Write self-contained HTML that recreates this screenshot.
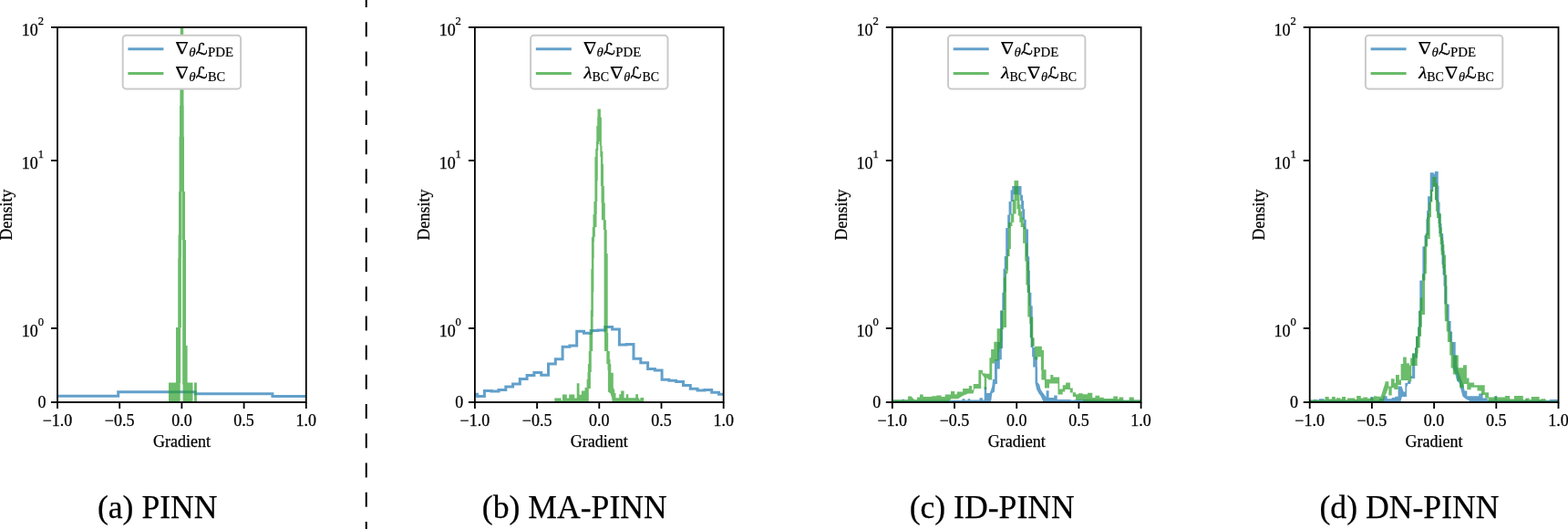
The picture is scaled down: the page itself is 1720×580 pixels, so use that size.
<!DOCTYPE html>
<html lang="en"><head><meta charset="utf-8"><title>Gradient density histograms</title>
<style>
html,body{margin:0;padding:0;background:#fff;}
body{width:1720px;height:580px;overflow:hidden;}
svg{display:block;position:absolute;left:0;top:0;}
text{font-family:"Liberation Serif","DejaVu Serif",serif;fill:#000;stroke:#000;stroke-width:0.25px;}
.t{font-size:18px;}
.s{font-size:12.6px;}
.cap{font-size:35.65px;}
.m{font-family:"DejaVu Math TeX Gyre","DejaVu Serif","DejaVu Sans",serif;}
.i{font-style:italic;}
</style></head><body>
<svg width="1720" height="580" viewBox="0 0 1720 580">
<rect x="0" y="0" width="1720" height="580" fill="#fff"/>
<line x1="401.75" y1="-7.9" x2="401.75" y2="590" stroke="#000" stroke-width="2" stroke-dasharray="16 16.21"/>
<g id="plot0">
<clipPath id="clip0"><rect x="63.00" y="29.90" width="272.80" height="411.10"/></clipPath>
<g clip-path="url(#clip0)">
<g opacity="0.7"><path d="M60.0,434.3 L129.7,434.3 L129.7,429.7 L214.3,429.7 L214.3,431.8 L298.9,431.8 L298.9,434.6 L340.0,434.6" fill="none" stroke="#1f77b4" stroke-width="3" stroke-linejoin="miter" /></g><g opacity="0.7"><path d="M185.0,419.5H197.7V441.5H185.0ZM200.6,421.5H211.5V441.5H200.6ZM200.2,419.5H211.5V421.5H200.2ZM213.0,419.5H215.9V441.5H213.0ZM193.0,359.0H198.1V420.0H193.0ZM195.2,283.0H198.9V359.0H195.2ZM195.5,257.5H199.0V283.0H195.5ZM196.0,210.0H199.0V257.5H196.0ZM200.2,379.0H205.6V420.0H200.2ZM200.2,263.0H204.0V379.0H200.2ZM199.5,210.0H203.0V263.0H199.5ZM196.5,150.0H202.0V210.0H196.5ZM197.0,116.0H201.7V150.0H197.0ZM197.4,97.0H201.5V116.0H197.4ZM197.8,28.0H201.2V97.0H197.8Z" fill="#2ca02c" fill-rule="nonzero"/></g>
</g>
<rect x="63.00" y="29.90" width="272.80" height="411.10" fill="none" stroke="#000" stroke-width="1.8"/>
<line x1="63.00" y1="441.00" x2="63.00" y2="448.00" stroke="#000" stroke-width="1.8"/>
<text class="t" x="63.00" y="466.7" text-anchor="middle">−1.0</text>
<line x1="131.20" y1="441.00" x2="131.20" y2="448.00" stroke="#000" stroke-width="1.8"/>
<text class="t" x="131.20" y="466.7" text-anchor="middle">−0.5</text>
<line x1="199.40" y1="441.00" x2="199.40" y2="448.00" stroke="#000" stroke-width="1.8"/>
<text class="t" x="199.40" y="466.7" text-anchor="middle">0.0</text>
<line x1="267.60" y1="441.00" x2="267.60" y2="448.00" stroke="#000" stroke-width="1.8"/>
<text class="t" x="267.60" y="466.7" text-anchor="middle">0.5</text>
<line x1="335.80" y1="441.00" x2="335.80" y2="448.00" stroke="#000" stroke-width="1.8"/>
<text class="t" x="335.80" y="466.7" text-anchor="middle">1.0</text>
<line x1="56.00" y1="441.00" x2="63.00" y2="441.00" stroke="#000" stroke-width="1.8"/>
<text class="t" x="50.40" y="447.30" text-anchor="end">0</text>
<line x1="56.00" y1="359.90" x2="63.00" y2="359.90" stroke="#000" stroke-width="1.8"/>
<text class="t" x="23.80" y="368.80">10<tspan class="s" dy="-12.0" dx="-0.1">0</tspan></text>
<line x1="56.00" y1="176.00" x2="63.00" y2="176.00" stroke="#000" stroke-width="1.8"/>
<text class="t" x="23.80" y="184.90">10<tspan class="s" dy="-12.0" dx="-0.1">1</tspan></text>
<line x1="56.00" y1="29.90" x2="63.00" y2="29.90" stroke="#000" stroke-width="1.8"/>
<text class="t" x="23.80" y="38.80">10<tspan class="s" dy="-12.0" dx="-0.1">2</tspan></text>
<text class="t" x="199.40" y="490.0" text-anchor="middle">Gradient</text>
<text class="t" transform="translate(13.10,235.45) rotate(-90)" text-anchor="middle">Density</text>
<rect x="134.70" y="38.8" width="129.40" height="58.6" rx="3.6" ry="3.6" fill="#fff" stroke="#cacaca" stroke-width="2"/>
<line x1="140.40" y1="53.8" x2="179.40" y2="53.8" stroke="#1f77b4" stroke-opacity="0.7" stroke-width="3"/>
<line x1="140.40" y1="80.4" x2="179.40" y2="80.4" stroke="#2ca02c" stroke-opacity="0.7" stroke-width="3"/>
<text transform="translate(190.32,58.79) scale(1.0516,0.9062)" font-size="20" style="font-family:'DejaVu Math TeX Gyre','DejaVu Serif',serif;stroke-width:0.05px">∇</text><text transform="translate(207.21,61.91) scale(0.7464,0.7577)" font-size="20" style="font-family:'Liberation Serif',serif" font-style="italic">θ</text><text transform="translate(214.72,59.53) scale(0.9031,0.8947)" font-size="20" style="font-family:'DejaVu Sans',serif;stroke-width:0.45px">ℒ</text><text transform="translate(227.91,61.97) scale(0.7431,0.7153)" font-size="20" style="font-family:'Liberation Serif',serif">PDE</text>
<text transform="translate(190.32,85.69) scale(1.0516,0.9062)" font-size="20" style="font-family:'DejaVu Math TeX Gyre','DejaVu Serif',serif;stroke-width:0.05px">∇</text><text transform="translate(207.21,88.81) scale(0.7464,0.7577)" font-size="20" style="font-family:'Liberation Serif',serif" font-style="italic">θ</text><text transform="translate(214.72,86.43) scale(0.9031,0.8947)" font-size="20" style="font-family:'DejaVu Sans',serif;stroke-width:0.45px">ℒ</text><text transform="translate(227.93,88.85) scale(0.7176,0.7313)" font-size="20" style="font-family:'Liberation Serif',serif">BC</text>
<text class="cap" x="172.75" y="567.9" text-anchor="middle">(a) PINN</text>
</g>
<g id="plot1">
<clipPath id="clip1"><rect x="520.90" y="29.90" width="272.80" height="411.10"/></clipPath>
<g clip-path="url(#clip1)">
<g opacity="0.7"><path d="M515.0,432.2 L523.6,432.2 L523.6,434.4 L531.4,434.4 L531.4,428.4 L539.2,428.4 L539.2,428.9 L547.0,428.9 L547.0,427.4 L554.8,427.4 L554.8,423.9 L562.6,423.9 L562.6,421.0 L570.3,421.0 L570.3,415.4 L578.1,415.4 L578.1,411.4 L585.9,411.4 L585.9,408.4 L593.7,408.4 L593.7,411.3 L601.5,411.3 L601.5,398.9 L609.3,398.9 L609.3,393.7 L617.1,393.7 L617.1,380.2 L624.9,380.2 L624.9,379.0 L632.7,379.0 L632.7,363.3 L640.5,363.3 L640.5,365.3 L648.2,365.3 L648.2,362.5 L656.0,362.5 L656.0,361.9 L663.8,361.9 L663.8,358.4 L671.6,358.4 L671.6,360.9 L679.4,360.9 L679.4,378.0 L687.2,378.0 L687.2,377.4 L695.0,377.4 L695.0,393.2 L702.8,393.2 L702.8,397.7 L710.6,397.7 L710.6,404.5 L718.4,404.5 L718.4,406.1 L726.1,406.1 L726.1,416.3 L733.9,416.3 L733.9,417.3 L741.7,417.3 L741.7,418.4 L749.5,418.4 L749.5,422.4 L757.3,422.4 L757.3,426.2 L765.1,426.2 L765.1,427.9 L772.9,427.9 L772.9,427.5 L780.7,427.5 L780.7,430.3 L788.5,430.3 L788.5,432.2 L800.0,432.2" fill="none" stroke="#1f77b4" stroke-width="3" stroke-linejoin="miter" /></g><g opacity="0.7"><path d="M608.3,436.4 L615.6,436.4 L615.6,439.0 L617.0,439.0 L617.0,432.5 L621.8,432.5 L621.8,436.4 L624.2,436.4 L624.2,432.5 L630.3,432.5 L630.3,436.4 L632.7,436.4 L632.7,420.3 L635.5,420.3 L635.5,432.7 L637.9,432.7 L637.9,428.4 L641.5,428.4 L641.5,425.0 L643.6,425.0 L643.6,425.0 L643.6,416.0 L644.5,416.0 L644.5,408.0 L644.9,408.0 L644.9,399.0 L645.8,399.0 L645.8,385.0 L646.5,385.0 L646.5,365.0 L647.8,365.0 L647.8,340.0 L648.3,340.0 L648.3,295.0 L648.9,295.0 L648.9,259.8 L649.8,259.8 L649.8,248.9 L650.5,248.9 L650.5,235.0 L651.4,235.0 L651.4,221.0 L652.4,221.0 L652.4,172.0 L653.2,172.0 L653.2,163.0 L654.0,163.0 L654.0,155.0 L654.3,155.0 L654.3,138.0 L655.2,138.0 L655.2,128.6 L655.5,128.6 L655.5,119.6 L658.9,119.6 L658.9,128.6 L659.9,128.6 L659.9,160.0 L660.5,160.0 L660.5,166.0 L661.4,166.0 L661.4,180.0 L662.0,180.0 L662.0,204.0 L662.9,204.0 L662.9,222.6 L663.8,222.6 L663.8,241.2 L664.9,241.2 L664.9,252.0 L665.7,252.0 L665.7,278.0 L666.7,278.0 L666.7,365.0 L667.2,365.0 L667.2,385.0 L668.8,385.0 L668.8,394.0 L669.5,394.0 L669.5,399.0 L670.3,399.0 L670.3,408.8 L672.8,408.8 L672.8,425.2 L673.4,425.2 L673.4,427.0 L674.2,427.0 L674.2,431.0 L675.5,431.0 L675.5,436.2 L675.5,436.2 L679.2,436.2 L679.2,432.2 L681.1,432.2 L681.1,428.4 L684.6,428.4 L684.6,436.2 L686.8,436.2 L686.8,432.2 L689.3,432.2 L689.3,436.2 L697.2,436.2 L697.2,432.2 L700.0,432.2 L700.0,436.2 L701.0,436.2 L701.0,438.0 L702.4,438.0 L702.4,436.0 L706.2,436.0 L706.2,441.5 L671.6,441.5 L671.2,436.4 L669.5,431.2 L666.9,429.5 L666.9,406.0 L666.5,406.0 L666.5,399.0 L665.3,399.0 L665.3,385.0 L663.0,385.0 L663.0,365.0 L662.6,365.0 L662.6,252.0 L661.8,252.0 L661.8,241.2 L659.9,241.2 L659.9,222.6 L659.5,222.6 L659.5,204.0 L658.9,204.0 L658.9,172.0 L658.3,172.0 L658.3,160.0 L657.7,160.0 L657.7,155.0 L657.2,155.0 L657.2,158.0 L656.3,158.0 L656.3,165.0 L655.8,165.0 L655.8,198.0 L655.3,198.0 L655.3,221.0 L654.8,221.0 L654.8,235.0 L654.5,235.0 L654.5,248.9 L652.9,248.9 L652.9,259.8 L652.0,259.8 L652.0,265.0 L651.7,265.0 L651.7,283.0 L651.4,283.0 L651.4,320.0 L650.9,320.0 L650.9,347.0 L650.6,347.0 L650.6,365.0 L650.2,365.0 L650.2,385.0 L648.8,385.0 L648.8,408.0 L647.9,408.0 L647.9,426.0 L645.8,426.0 L645.8,441.5 L645.8,441.5 L608.3,441.5Z" fill="#2ca02c"/></g>
</g>
<rect x="520.90" y="29.90" width="272.80" height="411.10" fill="none" stroke="#000" stroke-width="1.8"/>
<line x1="520.90" y1="441.00" x2="520.90" y2="448.00" stroke="#000" stroke-width="1.8"/>
<text class="t" x="520.90" y="466.7" text-anchor="middle">−1.0</text>
<line x1="589.10" y1="441.00" x2="589.10" y2="448.00" stroke="#000" stroke-width="1.8"/>
<text class="t" x="589.10" y="466.7" text-anchor="middle">−0.5</text>
<line x1="657.30" y1="441.00" x2="657.30" y2="448.00" stroke="#000" stroke-width="1.8"/>
<text class="t" x="657.30" y="466.7" text-anchor="middle">0.0</text>
<line x1="725.50" y1="441.00" x2="725.50" y2="448.00" stroke="#000" stroke-width="1.8"/>
<text class="t" x="725.50" y="466.7" text-anchor="middle">0.5</text>
<line x1="793.70" y1="441.00" x2="793.70" y2="448.00" stroke="#000" stroke-width="1.8"/>
<text class="t" x="793.70" y="466.7" text-anchor="middle">1.0</text>
<line x1="513.90" y1="441.00" x2="520.90" y2="441.00" stroke="#000" stroke-width="1.8"/>
<text class="t" x="508.30" y="447.30" text-anchor="end">0</text>
<line x1="513.90" y1="359.90" x2="520.90" y2="359.90" stroke="#000" stroke-width="1.8"/>
<text class="t" x="481.70" y="368.80">10<tspan class="s" dy="-12.0" dx="-0.1">0</tspan></text>
<line x1="513.90" y1="176.00" x2="520.90" y2="176.00" stroke="#000" stroke-width="1.8"/>
<text class="t" x="481.70" y="184.90">10<tspan class="s" dy="-12.0" dx="-0.1">1</tspan></text>
<line x1="513.90" y1="29.90" x2="520.90" y2="29.90" stroke="#000" stroke-width="1.8"/>
<text class="t" x="481.70" y="38.80">10<tspan class="s" dy="-12.0" dx="-0.1">2</tspan></text>
<text class="t" x="657.30" y="490.0" text-anchor="middle">Gradient</text>
<text class="t" transform="translate(471.00,235.45) rotate(-90)" text-anchor="middle">Density</text>
<rect x="582.10" y="38.8" width="150.40" height="58.6" rx="3.6" ry="3.6" fill="#fff" stroke="#cacaca" stroke-width="2"/>
<line x1="587.80" y1="53.8" x2="626.80" y2="53.8" stroke="#1f77b4" stroke-opacity="0.7" stroke-width="3"/>
<line x1="587.80" y1="80.4" x2="626.80" y2="80.4" stroke="#2ca02c" stroke-opacity="0.7" stroke-width="3"/>
<text transform="translate(637.72,58.79) scale(1.0516,0.9062)" font-size="20" style="font-family:'DejaVu Math TeX Gyre','DejaVu Serif',serif;stroke-width:0.05px">∇</text><text transform="translate(654.61,61.91) scale(0.7464,0.7577)" font-size="20" style="font-family:'Liberation Serif',serif" font-style="italic">θ</text><text transform="translate(662.12,59.53) scale(0.9031,0.8947)" font-size="20" style="font-family:'DejaVu Sans',serif;stroke-width:0.45px">ℒ</text><text transform="translate(675.31,61.97) scale(0.7431,0.7153)" font-size="20" style="font-family:'Liberation Serif',serif">PDE</text>
<text transform="translate(640.40,86.00) scale(1.0529,0.9514)" font-size="20" style="font-family:'Liberation Serif',serif" font-style="italic">λ</text><text transform="translate(649.55,88.85) scale(0.6952,0.7313)" font-size="20" style="font-family:'Liberation Serif',serif">BC</text><text transform="translate(666.91,85.69) scale(1.0547,0.9062)" font-size="20" style="font-family:'DejaVu Math TeX Gyre','DejaVu Serif',serif;stroke-width:0.05px">∇</text><text transform="translate(684.16,88.81) scale(0.7167,0.7577)" font-size="20" style="font-family:'Liberation Serif',serif" font-style="italic">θ</text><text transform="translate(691.45,86.43) scale(0.8636,0.8947)" font-size="20" style="font-family:'DejaVu Sans',serif;stroke-width:0.45px">ℒ</text><text transform="translate(704.50,88.85) scale(0.6948,0.7313)" font-size="20" style="font-family:'Liberation Serif',serif">BC</text>
<text class="cap" x="630.30" y="567.9" text-anchor="middle">(b) MA-PINN</text>
</g>
<g id="plot2">
<clipPath id="clip2"><rect x="978.80" y="29.90" width="272.80" height="411.10"/></clipPath>
<g clip-path="url(#clip2)">
<g opacity="0.7"><path d="M979.2,438.8 L989.5,438.8 L989.5,437.8 L992.0,437.8 L992.0,438.8 L1055.5,438.8 L1055.5,437.2 L1058.5,437.2 L1058.5,438.8 L1061.6,438.8 L1061.6,437.2 L1064.1,437.2 L1064.1,438.5 L1074.5,438.5 L1074.5,436.2 L1077.9,436.2 L1077.9,438.5 L1079.7,438.5 L1079.7,424.3 L1082.2,424.3 L1082.2,431.0 L1085.7,431.0 L1087.0,427.8 L1088.3,423.4 L1089.1,415.7 L1091.0,415.7 L1091.0,394.0 L1094.0,394.0 L1094.0,375.0 L1097.0,375.0 L1097.0,340.4 L1099.3,340.4 L1099.3,320.7 L1100.5,320.7 L1100.5,294.7 L1101.7,294.7 L1101.7,281.0 L1103.2,281.0 L1103.2,250.0 L1105.2,250.0 L1105.2,235.5 L1106.6,235.5 L1106.6,221.0 L1108.6,221.0 L1108.6,208.6 L1110.2,208.6 L1110.2,204.0 L1120.5,204.0 L1120.5,213.8 L1122.1,213.8 L1122.1,220.0 L1123.1,220.0 L1123.1,229.3 L1124.2,229.3 L1124.2,240.7 L1125.7,240.7 L1125.7,251.2 L1128.0,251.2 L1128.0,281.2 L1129.3,281.2 L1129.3,296.7 L1129.9,296.7 L1129.9,320.7 L1131.4,320.7 L1131.4,335.2 L1132.7,335.2 L1132.7,370.0 L1133.6,370.0 L1133.6,380.9 L1135.2,380.9 L1135.2,391.2 L1137.8,391.2 L1137.8,402.6 L1138.1,402.6 L1138.1,419.1 L1140.3,421.7 L1141.6,426.9 L1143.7,430.3 L1145.9,432.9 L1147.6,435.5 L1147.6,428.2 L1150.6,428.2 L1150.6,435.9 L1156.2,435.9 L1156.2,433.4 L1159.7,433.4 L1159.7,438.1 L1173.4,438.1 L1176.0,438.8 L1183.0,438.1 L1205.0,438.5 L1252.0,438.8 L1252.0,441.5 L1144.1,441.5 L1144.1,439.8 L1141.6,434.2 L1139.4,431.2 L1137.2,426.9 L1135.5,420.0 L1135.5,402.6 L1133.2,402.6 L1133.2,391.2 L1132.1,391.2 L1132.1,380.9 L1130.6,380.9 L1130.6,370.0 L1129.7,370.0 L1129.7,335.2 L1128.4,335.2 L1128.4,320.7 L1126.9,320.7 L1126.9,296.7 L1126.3,296.7 L1126.3,281.2 L1125.0,281.2 L1125.0,251.2 L1122.7,251.2 L1122.7,240.7 L1121.2,240.7 L1121.2,229.3 L1120.1,229.3 L1120.1,220.0 L1119.1,220.0 L1119.1,213.8 L1117.4,213.8 L1117.4,213.3 L1111.7,213.3 L1111.7,221.0 L1109.6,221.0 L1109.6,235.5 L1108.2,235.5 L1108.2,250.0 L1106.2,250.0 L1106.2,281.0 L1104.7,281.0 L1104.7,295.0 L1103.5,295.0 L1103.5,320.0 L1102.3,320.0 L1102.3,340.0 L1100.0,340.0 L1100.0,382.0 L1098.8,382.0 L1098.8,394.3 L1096.8,394.3 L1096.8,404.5 L1093.9,404.5 L1093.9,420.9 L1091.7,420.9 L1090.9,429.5 L1088.3,431.2 L1087.0,441.5 L979.2,441.5Z" fill="#1f77b4"/></g><g opacity="0.7"><path d="M979.2,438.3 L995.9,438.3 L995.9,434.6 L999.6,434.6 L1003.0,438.3 L1003.0,438.3 L1005.9,438.3 L1005.9,435.4 L1009.0,435.4 L1009.0,432.5 L1012.7,432.5 L1012.7,435.1 L1022.1,435.1 L1022.1,434.3 L1027.3,434.3 L1027.3,433.6 L1032.6,433.6 L1032.6,434.9 L1036.7,434.9 L1036.7,432.5 L1043.0,432.5 L1043.0,429.1 L1047.2,429.1 L1047.2,432.3 L1049.8,432.3 L1049.8,429.4 L1056.1,429.4 L1056.1,426.0 L1062.9,426.0 L1062.9,423.0 L1066.0,423.0 L1066.0,427.5 L1067.8,427.5 L1067.8,421.0 L1073.4,421.0 L1073.4,405.8 L1077.9,405.8 L1077.9,409.2 L1080.5,409.2 L1080.5,409.7 L1085.4,409.7 L1085.4,409.7 L1085.4,392.3 L1087.1,392.3 L1087.1,383.0 L1090.3,383.0 L1090.3,374.7 L1093.6,374.7 L1093.6,360.2 L1098.1,360.2 L1098.1,340.4 L1100.8,340.4 L1100.8,304.0 L1102.4,304.0 L1102.4,296.7 L1103.5,296.7 L1103.5,281.0 L1105.0,281.0 L1105.0,273.0 L1106.0,273.0 L1106.0,243.8 L1108.9,243.8 L1108.9,234.5 L1110.7,234.5 L1110.7,219.0 L1112.5,219.0 L1112.5,198.1 L1117.2,198.1 L1117.2,213.3 L1118.5,213.3 L1118.5,224.2 L1119.7,224.2 L1119.7,231.4 L1121.0,231.4 L1121.0,238.6 L1122.6,238.6 L1122.6,244.9 L1123.6,244.9 L1123.6,249.0 L1125.2,249.0 L1125.2,266.7 L1127.3,266.7 L1127.3,286.4 L1128.8,286.4 L1128.8,312.4 L1129.9,312.4 L1129.9,335.2 L1130.4,335.2 L1130.4,347.6 L1133.3,347.6 L1133.3,370.5 L1134.7,370.5 L1134.7,379.8 L1142.9,379.8 L1142.9,384.0 L1145.0,384.0 L1145.0,405.3 L1145.0,405.3 L1147.6,405.3 L1147.6,415.7 L1152.3,415.7 L1152.3,410.9 L1155.3,410.9 L1155.3,413.5 L1162.2,413.5 L1162.2,426.5 L1165.7,426.5 L1165.7,422.2 L1169.1,422.2 L1169.1,419.6 L1173.9,419.6 L1173.9,425.5 L1176.8,425.5 L1176.8,430.2 L1180.0,430.2 L1180.0,432.3 L1183.0,432.3 L1183.0,431.2 L1187.8,431.2 L1187.8,432.3 L1193.0,432.3 L1193.0,430.7 L1198.3,430.7 L1198.3,435.9 L1201.4,435.9 L1201.4,433.8 L1206.1,433.8 L1206.1,435.7 L1210.8,435.7 L1210.8,437.0 L1221.3,437.0 L1221.3,434.6 L1226.0,434.6 L1226.0,437.5 L1227.6,437.5 L1227.6,435.4 L1232.3,435.4 L1232.3,439.0 L1238.6,439.0 L1238.6,435.4 L1243.8,435.4 L1243.8,438.5 L1252.0,438.5 L1252.0,441.5 L1188.0,441.5 L1188.0,438.5 L1180.0,438.5 L1180.0,434.9 L1176.8,434.9 L1176.8,430.5 L1173.7,430.5 L1173.7,426.9 L1168.3,426.9 L1168.3,429.5 L1165.7,429.5 L1165.7,432.5 L1160.5,432.5 L1160.5,420.4 L1151.0,420.4 L1151.0,425.6 L1145.9,425.6 L1145.9,416.6 L1142.4,416.6 L1142.4,405.7 L1141.9,405.7 L1141.9,391.2 L1138.3,391.2 L1138.3,394.3 L1134.9,394.3 L1134.9,379.8 L1131.0,379.8 L1131.0,370.5 L1130.0,370.5 L1130.0,355.0 L1129.3,355.0 L1129.3,347.6 L1127.3,347.6 L1127.3,320.7 L1126.7,320.7 L1126.7,312.4 L1125.4,312.4 L1125.4,286.4 L1124.2,286.4 L1124.2,266.7 L1122.1,266.7 L1122.1,249.0 L1119.7,249.0 L1119.7,243.8 L1118.3,243.8 L1118.3,236.6 L1116.7,236.6 L1116.7,229.3 L1115.5,229.3 L1115.5,220.0 L1114.6,220.0 L1114.6,234.5 L1112.3,234.5 L1112.3,243.8 L1110.4,243.8 L1110.4,248.0 L1108.9,248.0 L1108.9,273.0 L1107.6,273.0 L1107.6,281.0 L1106.0,281.0 L1106.0,296.7 L1105.5,296.7 L1105.5,300.0 L1104.0,300.0 L1104.0,359.0 L1100.9,359.0 L1100.9,361.0 L1099.3,361.0 L1099.3,375.0 L1098.8,375.0 L1098.8,382.0 L1096.2,382.0 L1096.2,386.0 L1095.7,386.0 L1095.7,395.4 L1091.0,395.4 L1091.0,398.5 L1088.2,398.5 L1088.2,416.5 L1088.2,416.5 L1084.8,416.5 L1082.2,414.0 L1082.2,426.9 L1079.7,426.9 L1079.7,414.0 L1076.2,409.2 L1076.2,426.0 L1069.0,426.0 L1067.6,431.6 L1062.0,431.6 L1056.0,434.0 L1051.0,437.2 L1043.4,437.2 L1040.0,441.5 L979.2,441.5Z" fill="#2ca02c"/></g>
</g>
<rect x="978.80" y="29.90" width="272.80" height="411.10" fill="none" stroke="#000" stroke-width="1.8"/>
<line x1="978.80" y1="441.00" x2="978.80" y2="448.00" stroke="#000" stroke-width="1.8"/>
<text class="t" x="978.80" y="466.7" text-anchor="middle">−1.0</text>
<line x1="1047.00" y1="441.00" x2="1047.00" y2="448.00" stroke="#000" stroke-width="1.8"/>
<text class="t" x="1047.00" y="466.7" text-anchor="middle">−0.5</text>
<line x1="1115.20" y1="441.00" x2="1115.20" y2="448.00" stroke="#000" stroke-width="1.8"/>
<text class="t" x="1115.20" y="466.7" text-anchor="middle">0.0</text>
<line x1="1183.40" y1="441.00" x2="1183.40" y2="448.00" stroke="#000" stroke-width="1.8"/>
<text class="t" x="1183.40" y="466.7" text-anchor="middle">0.5</text>
<line x1="1251.60" y1="441.00" x2="1251.60" y2="448.00" stroke="#000" stroke-width="1.8"/>
<text class="t" x="1251.60" y="466.7" text-anchor="middle">1.0</text>
<line x1="971.80" y1="441.00" x2="978.80" y2="441.00" stroke="#000" stroke-width="1.8"/>
<text class="t" x="966.20" y="447.30" text-anchor="end">0</text>
<line x1="971.80" y1="359.90" x2="978.80" y2="359.90" stroke="#000" stroke-width="1.8"/>
<text class="t" x="939.60" y="368.80">10<tspan class="s" dy="-12.0" dx="-0.1">0</tspan></text>
<line x1="971.80" y1="176.00" x2="978.80" y2="176.00" stroke="#000" stroke-width="1.8"/>
<text class="t" x="939.60" y="184.90">10<tspan class="s" dy="-12.0" dx="-0.1">1</tspan></text>
<line x1="971.80" y1="29.90" x2="978.80" y2="29.90" stroke="#000" stroke-width="1.8"/>
<text class="t" x="939.60" y="38.80">10<tspan class="s" dy="-12.0" dx="-0.1">2</tspan></text>
<text class="t" x="1115.20" y="490.0" text-anchor="middle">Gradient</text>
<text class="t" transform="translate(928.90,235.45) rotate(-90)" text-anchor="middle">Density</text>
<rect x="1040.00" y="38.8" width="150.40" height="58.6" rx="3.6" ry="3.6" fill="#fff" stroke="#cacaca" stroke-width="2"/>
<line x1="1045.70" y1="53.8" x2="1084.70" y2="53.8" stroke="#1f77b4" stroke-opacity="0.7" stroke-width="3"/>
<line x1="1045.70" y1="80.4" x2="1084.70" y2="80.4" stroke="#2ca02c" stroke-opacity="0.7" stroke-width="3"/>
<text transform="translate(1095.62,58.79) scale(1.0516,0.9062)" font-size="20" style="font-family:'DejaVu Math TeX Gyre','DejaVu Serif',serif;stroke-width:0.05px">∇</text><text transform="translate(1112.51,61.91) scale(0.7464,0.7577)" font-size="20" style="font-family:'Liberation Serif',serif" font-style="italic">θ</text><text transform="translate(1120.02,59.53) scale(0.9031,0.8947)" font-size="20" style="font-family:'DejaVu Sans',serif;stroke-width:0.45px">ℒ</text><text transform="translate(1133.21,61.97) scale(0.7431,0.7153)" font-size="20" style="font-family:'Liberation Serif',serif">PDE</text>
<text transform="translate(1098.30,86.00) scale(1.0529,0.9514)" font-size="20" style="font-family:'Liberation Serif',serif" font-style="italic">λ</text><text transform="translate(1107.45,88.85) scale(0.6952,0.7313)" font-size="20" style="font-family:'Liberation Serif',serif">BC</text><text transform="translate(1124.81,85.69) scale(1.0547,0.9062)" font-size="20" style="font-family:'DejaVu Math TeX Gyre','DejaVu Serif',serif;stroke-width:0.05px">∇</text><text transform="translate(1142.06,88.81) scale(0.7167,0.7577)" font-size="20" style="font-family:'Liberation Serif',serif" font-style="italic">θ</text><text transform="translate(1149.35,86.43) scale(0.8636,0.8947)" font-size="20" style="font-family:'DejaVu Sans',serif;stroke-width:0.45px">ℒ</text><text transform="translate(1162.40,88.85) scale(0.6948,0.7313)" font-size="20" style="font-family:'Liberation Serif',serif">BC</text>
<text class="cap" x="1088.20" y="567.9" text-anchor="middle">(c) ID-PINN</text>
</g>
<g id="plot3">
<clipPath id="clip3"><rect x="1436.70" y="29.90" width="272.80" height="411.10"/></clipPath>
<g clip-path="url(#clip3)">
<g opacity="0.7"><path d="M1436.7,438.8 L1441.0,438.8 L1441.0,438.0 L1444.5,438.0 L1444.5,438.8 L1447.0,438.8 L1447.0,437.2 L1452.5,437.2 L1452.5,438.8 L1503.3,438.8 L1503.3,435.1 L1506.4,435.1 L1506.4,439.0 L1512.9,439.0 L1512.9,437.2 L1517.2,437.2 L1517.2,434.2 L1521.6,434.2 L1521.6,437.2 L1526.7,437.2 L1526.7,436.0 L1530.2,436.0 L1530.2,434.7 L1533.6,434.7 L1533.6,423.4 L1537.5,423.4 L1539.7,429.5 L1541.4,429.5 L1541.4,420.0 L1544.0,420.0 L1544.0,417.8 L1547.4,417.8 L1547.4,412.2 L1549.1,412.2 L1549.1,412.2 L1549.1,387.4 L1552.1,387.4 L1552.1,381.2 L1553.1,381.2 L1553.1,368.8 L1555.2,368.8 L1555.2,358.5 L1556.2,358.5 L1556.2,340.7 L1557.3,340.7 L1557.3,307.6 L1560.1,307.6 L1560.1,300.0 L1560.4,300.0 L1560.4,270.2 L1562.5,270.2 L1562.5,258.0 L1564.4,258.0 L1564.4,240.0 L1565.1,240.0 L1565.1,230.7 L1566.1,230.7 L1566.1,215.2 L1568.7,215.2 L1568.7,189.3 L1572.8,189.3 L1572.8,190.5 L1573.9,190.5 L1573.9,188.1 L1577.7,188.1 L1577.7,203.8 L1578.5,203.8 L1578.5,221.4 L1579.6,221.4 L1579.6,234.9 L1580.6,234.9 L1580.6,245.0 L1581.5,245.0 L1581.5,256.0 L1583.2,256.0 L1583.2,264.0 L1583.7,264.0 L1583.7,275.0 L1584.5,275.0 L1584.5,290.0 L1585.5,290.0 L1585.5,301.4 L1586.5,301.4 L1586.5,313.8 L1587.3,313.8 L1587.3,333.5 L1589.7,333.5 L1589.7,352.0 L1591.6,352.0 L1591.6,363.6 L1593.1,363.6 L1593.1,375.0 L1596.7,375.0 L1596.7,389.5 L1598.0,389.5 L1598.0,400.0 L1600.0,408.0 L1602.5,415.0 L1605.0,422.0 L1606.7,428.6 L1606.7,428.6 L1609.3,428.6 L1609.3,434.2 L1621.4,434.2 L1621.4,434.2 L1622.2,434.2 L1622.2,431.6 L1626.6,431.6 L1626.6,436.4 L1631.7,436.4 L1631.7,438.8 L1639.5,438.8 L1639.5,434.1 L1642.1,434.1 L1642.1,438.8 L1673.0,438.8 L1673.0,438.0 L1675.5,438.0 L1675.5,438.8 L1700.0,438.8 L1700.0,438.0 L1710.0,438.0 L1710.0,441.5 L1611.9,441.5 L1611.9,439.4 L1607.6,437.2 L1604.6,434.7 L1602.4,426.9 L1600.7,420.0 L1598.1,417.4 L1596.0,408.8 L1593.8,404.5 L1593.8,389.5 L1592.6,389.5 L1592.6,375.0 L1590.1,375.0 L1590.1,363.6 L1588.6,363.6 L1588.6,352.0 L1586.7,352.0 L1586.7,333.5 L1584.3,333.5 L1584.3,313.8 L1583.5,313.8 L1583.5,301.4 L1582.5,301.4 L1582.5,290.0 L1581.5,290.0 L1581.5,275.0 L1580.7,275.0 L1580.7,264.0 L1580.2,264.0 L1580.2,256.0 L1578.5,256.0 L1578.5,245.0 L1577.6,245.0 L1577.6,234.9 L1576.6,234.9 L1576.6,221.4 L1575.5,221.4 L1575.5,219.0 L1574.2,219.0 L1574.2,204.8 L1572.0,204.8 L1572.0,210.0 L1571.0,210.0 L1571.0,221.0 L1569.1,221.0 L1569.1,230.7 L1568.1,230.7 L1568.1,240.0 L1567.4,240.0 L1567.4,258.0 L1565.5,258.0 L1565.5,270.2 L1563.4,270.2 L1563.4,300.0 L1563.1,300.0 L1563.1,307.6 L1560.3,307.6 L1560.3,340.7 L1559.2,340.7 L1559.2,358.5 L1558.2,358.5 L1558.2,368.8 L1556.1,368.8 L1556.1,381.2 L1554.7,381.2 L1554.7,392.6 L1552.2,392.6 L1552.2,415.0 L1552.2,415.0 L1547.4,415.0 L1547.4,420.9 L1544.4,420.9 L1543.1,425.0 L1543.1,435.1 L1537.9,435.1 L1536.2,441.5 L1436.7,441.5Z" fill="#1f77b4"/></g><g opacity="0.7"><path d="M1436.7,438.5 L1453.5,438.5 L1453.5,435.1 L1457.7,435.1 L1457.7,437.5 L1460.9,437.5 L1460.9,435.1 L1464.8,435.1 L1464.8,437.5 L1466.1,437.5 L1466.1,436.2 L1470.3,436.2 L1470.3,437.5 L1471.9,437.5 L1471.9,435.1 L1476.0,435.1 L1476.0,438.5 L1478.1,438.5 L1478.1,436.5 L1486.5,436.5 L1486.5,438.0 L1488.1,438.0 L1488.1,434.1 L1492.8,434.1 L1492.8,436.5 L1495.4,436.5 L1495.4,435.4 L1500.1,435.4 L1500.1,436.7 L1503.4,436.7 L1503.4,436.0 L1506.9,436.0 L1506.9,434.2 L1510.3,434.2 L1510.3,434.7 L1514.7,434.7 L1519.4,420.0 L1519.4,418.3 L1523.3,418.3 L1523.3,423.4 L1525.9,423.4 L1525.9,415.3 L1529.7,415.3 L1529.7,420.0 L1531.0,420.0 L1531.0,410.9 L1534.9,410.9 L1534.9,416.6 L1536.6,416.6 L1536.6,398.9 L1539.1,398.9 L1539.1,391.6 L1542.8,391.6 L1542.8,398.3 L1545.9,398.3 L1545.9,400.6 L1547.1,400.6 L1547.1,400.6 L1547.1,392.6 L1549.0,392.6 L1549.0,387.4 L1552.1,387.4 L1552.1,381.2 L1553.1,381.2 L1553.1,368.8 L1555.2,368.8 L1555.2,358.5 L1556.2,358.5 L1556.2,340.7 L1557.8,340.7 L1557.8,326.2 L1560.1,326.2 L1560.1,300.3 L1562.0,300.3 L1562.0,270.2 L1563.0,270.2 L1563.0,262.0 L1563.5,262.0 L1563.5,255.7 L1565.1,255.7 L1565.1,238.0 L1565.9,238.0 L1565.9,233.8 L1567.2,233.8 L1567.2,221.4 L1568.9,221.4 L1568.9,208.0 L1571.3,208.0 L1571.3,194.0 L1575.4,194.0 L1575.4,200.7 L1577.0,200.7 L1577.0,219.3 L1578.0,219.3 L1578.0,233.8 L1580.7,233.8 L1580.7,249.5 L1581.8,249.5 L1581.8,259.8 L1583.2,259.8 L1583.2,268.1 L1584.4,268.1 L1584.4,279.5 L1586.0,279.5 L1586.0,296.0 L1586.3,296.0 L1586.3,301.4 L1587.3,301.4 L1587.3,333.5 L1588.0,333.5 L1588.0,352.0 L1590.0,352.0 L1590.0,363.6 L1591.8,363.6 L1591.8,375.0 L1593.6,375.0 L1593.6,389.5 L1593.6,389.5 L1599.8,389.5 L1599.8,403.2 L1605.0,403.2 L1605.0,400.2 L1608.9,400.2 L1608.9,414.4 L1611.5,414.4 L1611.5,419.6 L1617.1,419.6 L1617.1,422.2 L1628.7,422.2 L1628.7,430.3 L1633.0,430.3 L1633.0,435.4 L1638.9,435.4 L1638.9,435.0 L1642.6,435.0 L1642.6,435.4 L1650.9,435.4 L1650.9,434.1 L1656.2,434.1 L1656.2,437.5 L1660.9,437.5 L1660.9,434.1 L1670.8,434.1 L1670.8,438.5 L1673.4,438.5 L1673.4,436.5 L1677.6,436.5 L1677.6,438.3 L1679.7,438.3 L1679.7,435.1 L1688.6,435.1 L1688.6,438.0 L1690.7,438.0 L1690.7,437.2 L1695.4,437.2 L1695.4,439.5 L1710.0,439.5 L1710.0,441.5 L1632.6,441.5 L1632.6,436.4 L1629.1,436.4 L1629.1,432.9 L1624.8,432.9 L1624.8,428.6 L1620.5,428.6 L1620.5,424.7 L1613.6,424.7 L1613.6,427.3 L1609.3,427.3 L1609.3,420.9 L1605.9,420.9 L1605.9,425.2 L1601.1,425.2 L1601.1,417.4 L1598.5,417.4 L1598.5,410.5 L1593.8,410.5 L1593.8,403.6 L1591.6,403.6 L1591.6,403.6 L1591.6,389.5 L1590.2,389.5 L1590.2,375.0 L1587.9,375.0 L1587.9,363.6 L1586.7,363.6 L1586.7,352.2 L1584.8,352.2 L1584.8,345.0 L1584.6,345.0 L1584.6,301.4 L1583.2,301.4 L1583.2,294.0 L1582.2,294.0 L1582.2,279.5 L1580.6,279.5 L1580.6,268.1 L1579.6,268.1 L1579.6,259.8 L1578.5,259.8 L1578.5,249.5 L1577.7,249.5 L1577.7,239.0 L1576.0,239.0 L1576.0,231.7 L1574.9,231.7 L1574.9,219.3 L1573.9,219.3 L1573.9,204.8 L1572.3,204.8 L1572.3,210.0 L1571.3,210.0 L1571.3,221.4 L1570.0,221.4 L1570.0,238.0 L1568.7,238.0 L1568.7,262.0 L1566.1,262.0 L1566.1,270.2 L1565.1,270.2 L1565.1,290.0 L1564.9,290.0 L1564.9,300.3 L1563.5,300.3 L1563.5,307.6 L1563.0,307.6 L1563.0,345.0 L1559.8,345.0 L1559.8,358.5 L1559.1,358.5 L1559.1,368.8 L1557.8,368.8 L1557.8,381.2 L1555.7,381.2 L1555.7,387.4 L1555.2,387.4 L1555.2,392.6 L1554.7,392.6 L1554.7,401.0 L1548.3,401.0 L1548.3,418.3 L1544.8,418.3 L1544.8,417.0 L1537.0,417.0 L1537.0,422.0 L1533.6,422.0 L1533.6,426.9 L1529.3,426.9 L1529.3,425.2 L1526.7,425.2 L1526.7,433.4 L1523.3,433.4 L1523.3,424.5 L1518.5,436.7 L1517.3,441.5 L1436.7,441.5Z" fill="#2ca02c"/></g>
</g>
<rect x="1436.70" y="29.90" width="272.80" height="411.10" fill="none" stroke="#000" stroke-width="1.8"/>
<line x1="1436.70" y1="441.00" x2="1436.70" y2="448.00" stroke="#000" stroke-width="1.8"/>
<text class="t" x="1436.70" y="466.7" text-anchor="middle">−1.0</text>
<line x1="1504.90" y1="441.00" x2="1504.90" y2="448.00" stroke="#000" stroke-width="1.8"/>
<text class="t" x="1504.90" y="466.7" text-anchor="middle">−0.5</text>
<line x1="1573.10" y1="441.00" x2="1573.10" y2="448.00" stroke="#000" stroke-width="1.8"/>
<text class="t" x="1573.10" y="466.7" text-anchor="middle">0.0</text>
<line x1="1641.30" y1="441.00" x2="1641.30" y2="448.00" stroke="#000" stroke-width="1.8"/>
<text class="t" x="1641.30" y="466.7" text-anchor="middle">0.5</text>
<line x1="1709.50" y1="441.00" x2="1709.50" y2="448.00" stroke="#000" stroke-width="1.8"/>
<text class="t" x="1709.50" y="466.7" text-anchor="middle">1.0</text>
<line x1="1429.70" y1="441.00" x2="1436.70" y2="441.00" stroke="#000" stroke-width="1.8"/>
<text class="t" x="1424.10" y="447.30" text-anchor="end">0</text>
<line x1="1429.70" y1="359.90" x2="1436.70" y2="359.90" stroke="#000" stroke-width="1.8"/>
<text class="t" x="1397.50" y="368.80">10<tspan class="s" dy="-12.0" dx="-0.1">0</tspan></text>
<line x1="1429.70" y1="176.00" x2="1436.70" y2="176.00" stroke="#000" stroke-width="1.8"/>
<text class="t" x="1397.50" y="184.90">10<tspan class="s" dy="-12.0" dx="-0.1">1</tspan></text>
<line x1="1429.70" y1="29.90" x2="1436.70" y2="29.90" stroke="#000" stroke-width="1.8"/>
<text class="t" x="1397.50" y="38.80">10<tspan class="s" dy="-12.0" dx="-0.1">2</tspan></text>
<text class="t" x="1573.10" y="490.0" text-anchor="middle">Gradient</text>
<text class="t" transform="translate(1386.80,235.45) rotate(-90)" text-anchor="middle">Density</text>
<rect x="1497.90" y="38.8" width="150.40" height="58.6" rx="3.6" ry="3.6" fill="#fff" stroke="#cacaca" stroke-width="2"/>
<line x1="1503.60" y1="53.8" x2="1542.60" y2="53.8" stroke="#1f77b4" stroke-opacity="0.7" stroke-width="3"/>
<line x1="1503.60" y1="80.4" x2="1542.60" y2="80.4" stroke="#2ca02c" stroke-opacity="0.7" stroke-width="3"/>
<text transform="translate(1553.52,58.79) scale(1.0516,0.9062)" font-size="20" style="font-family:'DejaVu Math TeX Gyre','DejaVu Serif',serif;stroke-width:0.05px">∇</text><text transform="translate(1570.41,61.91) scale(0.7464,0.7577)" font-size="20" style="font-family:'Liberation Serif',serif" font-style="italic">θ</text><text transform="translate(1577.92,59.53) scale(0.9031,0.8947)" font-size="20" style="font-family:'DejaVu Sans',serif;stroke-width:0.45px">ℒ</text><text transform="translate(1591.11,61.97) scale(0.7431,0.7153)" font-size="20" style="font-family:'Liberation Serif',serif">PDE</text>
<text transform="translate(1556.20,86.00) scale(1.0529,0.9514)" font-size="20" style="font-family:'Liberation Serif',serif" font-style="italic">λ</text><text transform="translate(1565.35,88.85) scale(0.6952,0.7313)" font-size="20" style="font-family:'Liberation Serif',serif">BC</text><text transform="translate(1582.71,85.69) scale(1.0547,0.9062)" font-size="20" style="font-family:'DejaVu Math TeX Gyre','DejaVu Serif',serif;stroke-width:0.05px">∇</text><text transform="translate(1599.96,88.81) scale(0.7167,0.7577)" font-size="20" style="font-family:'Liberation Serif',serif" font-style="italic">θ</text><text transform="translate(1607.25,86.43) scale(0.8636,0.8947)" font-size="20" style="font-family:'DejaVu Sans',serif;stroke-width:0.45px">ℒ</text><text transform="translate(1620.30,88.85) scale(0.6948,0.7313)" font-size="20" style="font-family:'Liberation Serif',serif">BC</text>
<text class="cap" x="1546.00" y="567.9" text-anchor="middle">(d) DN-PINN</text>
</g>
</svg>
</body></html>
